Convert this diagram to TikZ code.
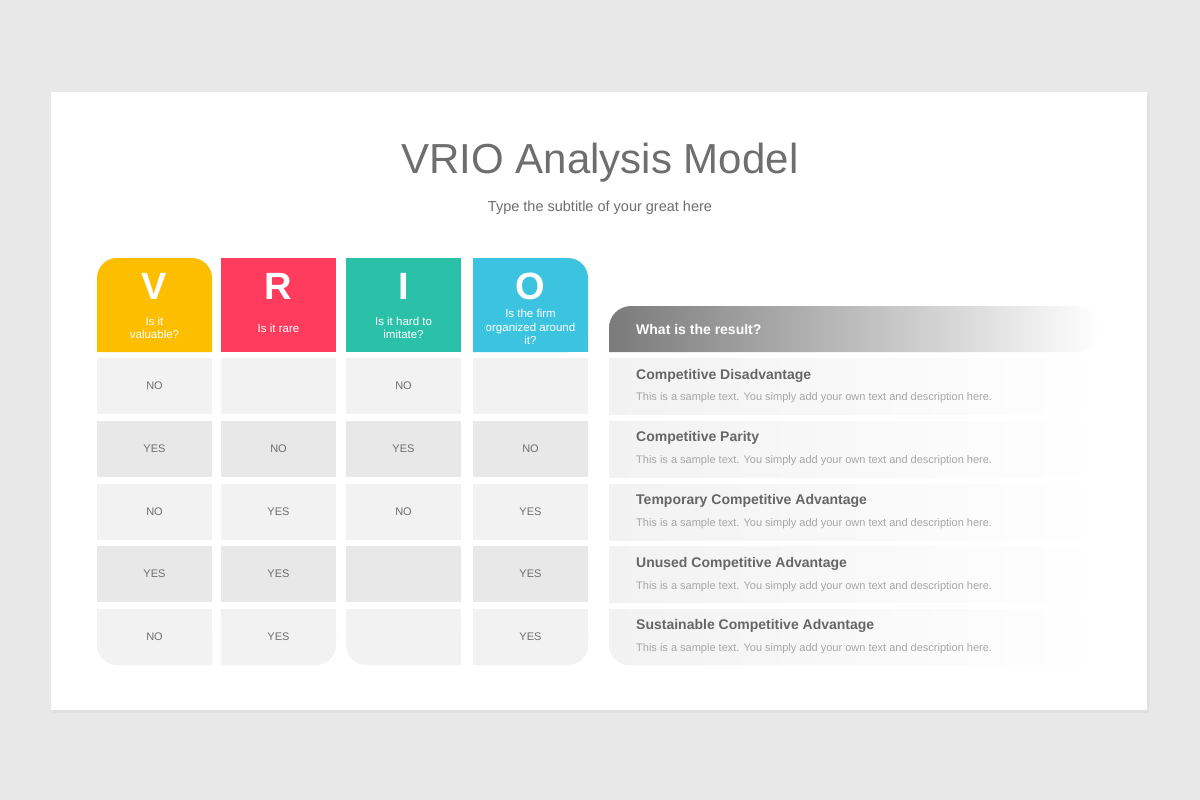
\documentclass[tikz,border=0pt]{standalone}
\usepackage{fontspec}
\setmainfont{Liberation Sans}
\begin{document}
\begin{tikzpicture}[x=1pt,y=-1pt,
  cellA/.style={fill=cellL,draw=none},
  cellB/.style={fill=cellD,draw=none},
  yn/.style={text=txt,font=\fontsize{11}{13}\selectfont},
  hdr/.style={text=white,font=\bfseries\fontsize{38}{40}\selectfont},
  q/.style={text=white,align=center,font=\fontsize{11.5}{13.5}\selectfont},
  rt/.style={anchor=west,inner sep=0pt,text=ttl,font=\bfseries\fontsize{14}{16}\selectfont},
  rd/.style={anchor=west,inner sep=0pt,text=dsc,font=\fontsize{11}{13}\selectfont}]
\definecolor{bg}{HTML}{E9E8E9}
\definecolor{cellL}{HTML}{F2F2F2}
\definecolor{cellD}{HTML}{E8E8E8}
\definecolor{txt}{HTML}{6E6E6E}
\definecolor{ttl}{HTML}{666666}
\definecolor{dsc}{HTML}{A6A6A6}
\definecolor{cV}{HTML}{FDBE00}
\definecolor{cR}{HTML}{FF3B5E}
\definecolor{cI}{HTML}{2BC0A8}
\definecolor{cO}{HTML}{3BC3E0}
\definecolor{hg}{HTML}{7A7A7A}
\useasboundingbox (0,0) rectangle (1200,800);
\fill[bg] (0,0) rectangle (1200,800);
\fill[black!12] (53,95) rectangle (1149,713);
\fill[white] (51,92) rectangle (1147,710);
\node[text=txt,font=\fontsize{42}{48}\selectfont] (title) at (600,163) {VRIO Analysis Model};
\node[text=txt,font=\fontsize{14.5}{17}\selectfont] (sub) at (600,208) {Type the subtitle of your great here};
% headers
\fill[cV,rounded corners=20] (97,352) -- (97,258) -- (212,258) [sharp corners] -- (212,352) -- cycle;
\fill[cR] (221,258) rectangle (336,352);
\fill[cI] (346,258) rectangle (461,352);
\fill[cO,rounded corners=20] (473,258) -- (588,258) -- (588,352) [sharp corners] -- (473,352) -- cycle;
\fill[cV] (97,300) rectangle (212,352);
\fill[cO] (473,300) rectangle (588,352);
\node[hdr] (hV) at (154.5,286) {V};
\node[hdr] (hR) at (278.5,286) {R};
\node[hdr] (hI) at (403.5,286) {I};
\node[hdr] (hO) at (530.5,286) {O};
\node[q] (qV) at (154.5,328) {Is it\\valuable?};
\node[q] (qR) at (278.5,328) {Is it rare};
\node[q] (qI) at (403.5,328) {Is it hard to\\imitate?};
\node[q] (qO) at (530.5,327) {Is the firm\\organized around\\it?};
% cells rows 1-4
\foreach \ya/\yb/\st in {358/414/cellA,421/477/cellB,484/540/cellA,546/602/cellB}{
  \foreach \xa/\xb in {97/212,221/336,346/461,473/588}{
    \fill[\st] (\xa,\ya) rectangle (\xb,\yb);}}
% row 5
\fill[cellL,rounded corners=20] (97,609) -- (212,609) [sharp corners] -- (212,665) [rounded corners=20] -- (97,665) -- cycle;
\fill[cellL,rounded corners=20] (221,609) -- (336,609) -- (336,665) [sharp corners] -- (221,665) -- cycle;
\fill[cellL] (221,609) rectangle (300,665);
\fill[cellL] (221,609) rectangle (336,630);
\fill[cellL,rounded corners=20] (346,609) -- (461,609) [sharp corners] -- (461,665) [rounded corners=20] -- (346,665) -- cycle;
\fill[cellL,rounded corners=20] (473,609) -- (588,609) -- (588,665) [sharp corners] -- (473,665) -- cycle;
\fill[cellL] (473,609) rectangle (550,665);
\fill[cellL] (473,609) rectangle (588,630);
\fill[cellL] (120,609) rectangle (212,665);
\fill[cellL] (97,609) rectangle (212,630);
\fill[cellL] (370,609) rectangle (461,665);
\fill[cellL] (346,609) rectangle (461,630);
% labels
\node[yn] (c11) at (154.5,386) {NO};
\node[yn] (c13) at (403.5,386) {NO};
\node[yn] (c21) at (154.5,449) {YES};
\node[yn] (c22) at (278.5,449) {NO};
\node[yn] (c23) at (403.5,449) {YES};
\node[yn] (c24) at (530.5,449) {NO};
\node[yn] (c31) at (154.5,512) {NO};
\node[yn] (c32) at (278.5,512) {YES};
\node[yn] (c33) at (403.5,512) {NO};
\node[yn] (c34) at (530.5,512) {YES};
\node[yn] (c41) at (154.5,574) {YES};
\node[yn] (c42) at (278.5,574) {YES};
\node[yn] (c44) at (530.5,574) {YES};
\node[yn] (c51) at (154.5,637) {NO};
\node[yn] (c52) at (278.5,637) {YES};
\node[yn] (c54) at (530.5,637) {YES};
% right header
\begin{scope}
\clip[rounded corners=22] (609,352) [sharp corners] -- (609,330) [rounded corners=22] -- (609,306) -- (1100,306) -- (1100,352) [sharp corners] -- cycle;
\shade[left color=hg,right color=white] (609,306) rectangle (1100,352);
\end{scope}
\node[anchor=west,inner sep=0pt,text=white,font=\bfseries\fontsize{14}{16}\selectfont] (rh) at (636,329) {What is the result?};
% right rows
\foreach \ya/\yb in {358/414,421/477,484/540,546/602}{
  \shade[left color=cellL,right color=white] (609,\ya) rectangle (1100,\yb);}
\begin{scope}
\clip (609,640) [sharp corners] -- (609,609) -- (1100,609) -- (1100,665) [rounded corners=20] -- (609,665) [sharp corners] -- cycle;
\shade[left color=cellL,right color=white] (609,609) rectangle (1100,665);
\end{scope}
\node[rt] (t1) at (636,376) {Competitive Disadvantage};
\node[rd] (d1) at (636,398) {This is a sample text. You simply add your own text and description here.};
\node[rt] (t2) at (636,438) {Competitive Parity};
\node[rd] (d2) at (636,461) {This is a sample text. You simply add your own text and description here.};
\node[rt] (t3) at (636,501) {Temporary Competitive Advantage};
\node[rd] (d3) at (636,524) {This is a sample text. You simply add your own text and description here.};
\node[rt] (t4) at (636,564) {Unused Competitive Advantage};
\node[rd] (d4) at (636,587) {This is a sample text. You simply add your own text and description here.};
\node[rt] (t5) at (636,626) {Sustainable Competitive Advantage};
\node[rd] (d5) at (636,649) {This is a sample text. You simply add your own text and description here.};
\end{tikzpicture}
\end{document}
